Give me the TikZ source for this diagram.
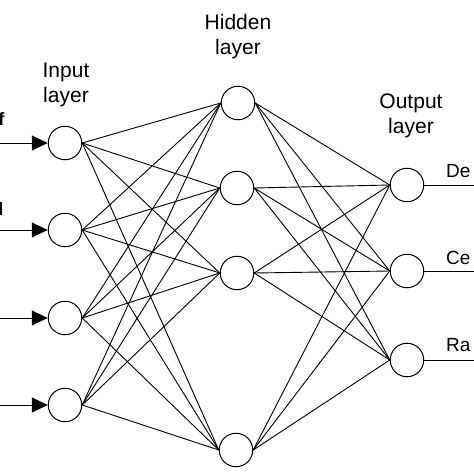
\documentclass[tikz,border=0pt]{standalone}
\usepackage{fontspec}
\setmainfont{Liberation Sans}
\usetikzlibrary{arrows.meta}
\begin{document}
\begin{tikzpicture}[x=1pt,y=-1pt,
  neuron/.style={circle,draw=black,line width=1pt,minimum size=33.5pt,inner sep=0pt,fill=white},
  conn/.style={line width=0.9pt,black},
  inarrow/.style={line width=1pt,-{Triangle[length=16pt,width=15pt]}},
  outline/.style={line width=1pt},
  layerlabel/.style={align=center,font=\fontsize{21}{25}\selectfont,inner sep=0pt},
  sidelabel/.style={font=\fontsize{19}{22}\selectfont,inner sep=0pt,anchor=base west},
  leftlabel/.style={font=\fontsize{18}{22}\selectfont\bfseries,inner sep=0pt,anchor=base east}]
\useasboundingbox (0,0) rectangle (474,474);
% nodes
\node[neuron] (i1) at (65,143) {};
\node[neuron] (i2) at (65,230) {};
\node[neuron] (i3) at (65,318) {};
\node[neuron] (i4) at (65,405) {};
\node[neuron] (h1) at (238,103) {};
\node[neuron] (h2) at (237,188) {};
\node[neuron] (h3) at (237,273) {};
\node[neuron] (h4) at (236,450) {};
\node[neuron] (o1) at (407,185) {};
\node[neuron] (o2) at (407,271) {};
\node[neuron] (o3) at (407,360) {};
% connections
\foreach \i in {1,...,4}{
  \foreach \h in {1,...,4}{
    \draw[conn] (i\i.east) -- (h\h.west);
  }
}
\foreach \h in {1,...,4}{
  \foreach \o in {1,...,3}{
    \draw[conn] (h\h.east) -- (o\o.west);
  }
}
% input arrows
\foreach \k/\y in {1/143,2/230,3/318,4/405}{
  \coordinate (a\k) at (0,\y);
  \draw[inarrow] (a\k) -- (i\k.west);
}
% output lines
\foreach \k/\y in {1/185,2/271,3/360}{
  \coordinate (b\k) at (474,\y);
  \draw[outline] (o\k.east) -- (b\k);
}
% labels
\node[layerlabel] (li) at (66,85) {Input\\layer};
\node[layerlabel] (lh) at (238,37) {Hidden\\layer};
\node[layerlabel] (lo) at (411,116) {Output\\layer};
\node[leftlabel] (tf) at (4.5,125) {f};
\node[leftlabel] (tl) at (3.5,215) {l};
\node[sidelabel] (t1) at (446,177) {De};
\node[sidelabel] (t2) at (446,264) {Ce};
\node[sidelabel] (t3) at (446,351) {Ra};
\end{tikzpicture}
\end{document}
